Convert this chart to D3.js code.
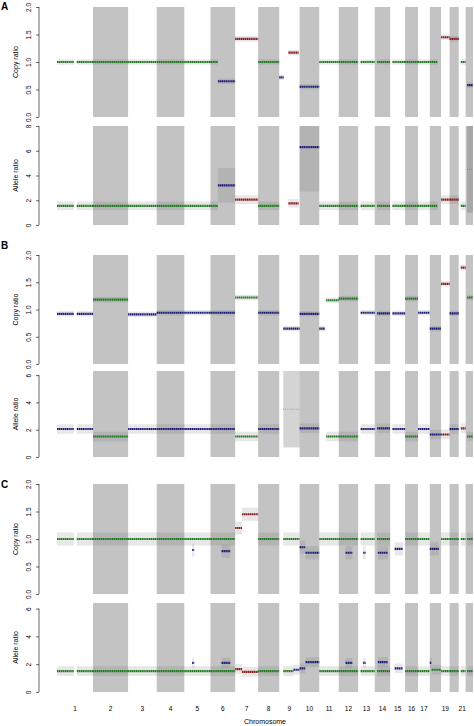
<!DOCTYPE html>
<html><head><meta charset="utf-8">
<script src="https://cdn.jsdelivr.net/npm/d3@7"></script>
<style>body{margin:0;background:#fff}svg{display:block}text{font-family:"Liberation Sans",Arial,sans-serif}</style>
</head><body><svg id="c" width="474" height="726"></svg>
<script>
// chromosome lengths (Mb)
const chromLengths = [249,243,198,191,181,171,159,146,141,136,135,134,115,107,103,90,81,78,59,63,48,51];
const chromLabels = ["1","2","3","4","5","6","7","8","9","10","11","12","13","14","15","16","17","","19","","21",""];
// segments: [chrom, startFrac, endFrac, value, colour, spread]
const copyA = [[1,0,0.47,1,"g"],[1,0.55,1,1,"g"],[2,0,1,1,"g"],[3,0,1,1,"g"],[4,0,1,1,"g"],[5,0,1,1,"g"],[6,0,0.3,1,"g"],[6,0.3,1,0.65,"b"],[7,0,1,1.42,"r"],[8,0,1,1,"g"],[9,0,0.22,0.72,"b"],[9,0.45,0.95,1.17,"r"],[10,0,1,0.55,"b"],[11,0,1,1,"g"],[12,0,1,1,"g"],[13,0.15,1,1,"g"],[14,0.15,1,1,"g"],[15,0.15,1,1,"g"],[16,0,1,1,"g"],[17,0,1,1,"g"],[18,0,0.7,1,"g"],[19,0,1,1.45,"r"],[20,0,1,1.42,"r"],[21,0.3,1,1,"g"],[22,0.2,1,0.58,"b"]];
const alleleA = [[1,0,0.47,1.55,"g"],[1,0.55,1,1.55,"g"],[2,0,1,1.55,"g"],[3,0,1,1.55,"g"],[4,0,1,1.55,"g"],[5,0,1,1.55,"g"],[6,0,0.3,1.55,"g"],[6,0.3,1,3.2,"b",1.4],[7,0,1,2.05,"r"],[8,0,1,1.55,"g"],[9,0.45,0.95,1.75,"r"],[10,0,1,6.3,"b",3.6],[11,0,1,1.55,"g"],[12,0,1,1.55,"g"],[13,0.15,1,1.55,"g"],[14,0.15,1,1.55,"g"],[15,0.15,1,1.55,"g"],[16,0,1,1.55,"g"],[17,0,1,1.55,"g"],[18,0,0.7,1.55,"g"],[19,0,1,2.05,"r"],[20,0,1,2.05,"r"],[21,0.3,1,1.55,"g"],[22,0.2,1,4.5,"k",3.5]];
const copyB = [[1,0,0.47,0.92,"b"],[1,0.55,1,0.92,"b"],[2,0,1,1.18,"g"],[3,0,1,0.91,"b"],[4,0,1,0.94,"b"],[5,0,1,0.94,"b"],[6,0,1,0.94,"b"],[7,0,1,1.22,"g"],[8,0,1,0.94,"b"],[9,0.2,1,0.65,"b"],[10,0,1,0.92,"b"],[11,0,0.3,0.65,"b"],[11,0.35,1,1.17,"g"],[12,0,1,1.2,"g"],[13,0.15,1,0.94,"b"],[14,0.15,1,0.93,"b"],[15,0.15,1,0.93,"b"],[16,0,1,1.2,"g"],[17,0,1,0.94,"b"],[18,0,1,0.65,"b"],[19,0,1,1.47,"r"],[20,0,1,0.93,"b"],[21,0.3,1,1.77,"r"],[22,0.2,1,1.22,"g"]];
const alleleB = [[1,0,0.47,2.05,"b"],[1,0.55,1,2.05,"b"],[2,0,1,1.5,"g"],[3,0,1,2.05,"b"],[4,0,1,2.05,"b"],[5,0,1,2.05,"b"],[6,0,1,2.05,"b"],[7,0,1,1.5,"g"],[8,0,1,2.05,"b"],[9,0.2,1,3.5,"k",2.8],[10,0,1,2.1,"b"],[11,0.35,1,1.5,"g"],[12,0,1,1.5,"g"],[13,0.15,1,2.05,"b"],[14,0.15,1,2.1,"b"],[15,0.15,1,2.05,"b"],[16,0,1,1.5,"g"],[17,0,1,2.05,"b"],[18,0,1,1.65,"b"],[19,0,1,1.65,"r"],[20,0,1,2.05,"b"],[21,0.3,1,2.1,"r"],[22,0.2,1,1.5,"g"]];
const copyC = [[1,0,0.47,1,"g"],[1,0.55,1,1,"g"],[2,0,1,1,"g"],[3,0,1,1,"g"],[4,0,1,1,"g"],[5,0,1,1,"g"],[5,0.3,0.38,0.8,"b"],[6,0,1,1,"g"],[6,0.45,0.8,0.78,"b"],[7,0,0.3,1.2,"r"],[7,0.3,1,1.45,"r"],[8,0,1,1,"g"],[9,0.2,1,1,"g"],[10,0,0.3,0.85,"b"],[10,0.3,1,0.75,"b"],[11,0,1,1,"g"],[12,0,1,1,"g"],[12,0.35,0.7,0.75,"b"],[13,0.15,1,1,"g"],[13,0.3,0.45,0.75,"b"],[14,0.15,1,1,"g"],[14,0.2,0.85,0.75,"b"],[15,0.3,0.85,0.82,"b"],[16,0,1,1,"g"],[17,0,1,1,"g"],[18,0,0.8,0.82,"b"],[19,0,1,1,"g"],[20,0,1,1,"g"],[21,0.3,1,1,"g"],[22,0.2,1,1,"g"]];
const alleleC = [[1,0,0.47,1.5,"g"],[1,0.55,1,1.5,"g"],[2,0,1,1.5,"g"],[3,0,1,1.5,"g"],[4,0,1,1.5,"g"],[5,0,1,1.5,"g"],[5,0.3,0.38,2.1,"b"],[6,0,1,1.5,"g"],[6,0.45,0.8,2.1,"b"],[7,0,0.3,1.65,"r"],[7,0.3,1,1.45,"r"],[8,0,1,1.5,"g"],[9,0.2,0.7,1.5,"g"],[9,0.7,1,1.6,"b"],[10,0,0.3,1.7,"b"],[10,0.3,1,2.15,"b"],[11,0,1,1.5,"g"],[12,0,1,1.5,"g"],[12,0.35,0.7,2.1,"b"],[13,0.15,1,1.5,"g"],[13,0.3,0.45,2.1,"b"],[14,0.15,1,1.5,"g"],[14,0.2,0.85,2.15,"b"],[15,0.3,0.85,1.7,"b"],[16,0,1,1.5,"g"],[17,0,1,1.5,"g"],[18,0,0.15,2.1,"b"],[18,0.15,1,1.6,"g"],[19,0,1,1.5,"g"],[20,0,1,1.5,"g"],[21,0.3,1,1.5,"g"],[22,0.2,1,1.5,"g"]];
const copyTicks = [0,0.5,1,1.5,2];
const alleleTicksA = [0,2,4,6,8];
const alleleTicks = [0,2,4,6];

const colors = {g:"#237a23",b:"#1c1c7a",r:"#8a1c1c",k:"#555"};
const svg = d3.select("#c");
const starts = []; let acc=0; chromLengths.forEach(l=>{starts.push(acc);acc+=l;});
const x = d3.scaleLinear().domain([0,acc]).range([57,473]);
const gpos = (c,f)=>starts[c-1]+f*chromLengths[c-1];

const panels = [
 {letter:"A",ly:10,data:copyA,dom:[0,2],top:7,bot:117,ticks:copyTicks,title:"Copy ratio",sp:0.05},
 {data:alleleA,dom:[0,8],top:126,bot:225,ticks:alleleTicksA,title:"Allele ratio",sp:0.35},
 {letter:"B",ly:249,data:copyB,dom:[0,2],top:255,bot:364,ticks:copyTicks,title:"Copy ratio",sp:0.05},
 {data:alleleB,dom:[0,6.3],top:371,bot:457,ticks:alleleTicks,title:"Allele ratio",sp:0.35},
 {letter:"C",ly:488,data:copyC,dom:[0,2],top:484,bot:594,ticks:copyTicks,title:"Copy ratio",sp:0.12},
 {data:alleleC,dom:[0,6.4],top:603,bot:692,ticks:alleleTicks,title:"Allele ratio",sp:0.35},
];
panels.forEach(p=>{
  const y = d3.scaleLinear().domain(p.dom).range([p.bot,p.top]);
  const g = svg.append("g");
  chromLengths.forEach((l,i)=>{ if(i%2==1) g.append("rect").attr("x",x(starts[i])).attr("width",x(starts[i]+l)-x(starts[i])).attr("y",p.top).attr("height",p.bot-p.top).attr("fill","#c3c3c3"); });
  p.data.forEach(s=>{
    const x0=x(gpos(s[0],s[1])), x1=x(gpos(s[0],s[2]));
    const sp = s[5]!==undefined? s[5] : p.sp;
    const yt = Math.max(p.top,y(s[3]+sp)), yb = Math.min(p.bot,y(s[3]-sp));
    g.append("rect").attr("x",x0).attr("width",x1-x0).attr("y",yt).attr("height",yb-yt).attr("fill","#555").attr("opacity",s[4]=="k"?0.25:0.14);
    if(s[4]!="k") g.append("line").attr("x1",x0).attr("x2",x1).attr("y1",y(s[3])).attr("y2",y(s[3])).attr("stroke",colors[s[4]]).attr("stroke-width",2.2).attr("stroke-dasharray","1.5 0.4");
    else g.append("line").attr("x1",x0).attr("x2",x1).attr("y1",y(s[3])).attr("y2",y(s[3])).attr("stroke","#333").attr("stroke-width",1).attr("stroke-dasharray","0.6 1.5").attr("opacity",0.5);
  });
  const ax = d3.axisLeft(y).tickValues(p.ticks).tickSize(3).tickFormat(d=>p.dom[1]===2?d3.format(".1f")(d):d3.format("d")(d));
  const a = svg.append("g").attr("transform","translate(39,0)").call(ax);
  a.select(".domain").attr("d",`M0,${y(p.ticks[0])}V${y(p.ticks[p.ticks.length-1])}`).attr("stroke","#000").attr("stroke-width",0.6);
  a.selectAll(".tick line").attr("stroke-width",0.6);
  a.selectAll(".tick text").attr("font-size",6.5).attr("transform","rotate(-90)").attr("x",0).attr("y",-8).attr("dy","0").attr("text-anchor","middle");
  svg.append("text").attr("transform",`translate(18,${(p.top+p.bot)/2}) rotate(-90)`).attr("text-anchor","middle").attr("font-size",7).text(p.title);
  if(p.letter) svg.append("text").attr("x",1).attr("y",p.ly).attr("font-size",10).attr("font-weight","bold").text(p.letter);
});
chromLabels.forEach((t,i)=>{ if(t) svg.append("text").attr("x",x(starts[i]+chromLengths[i]/2)).attr("y",711).attr("text-anchor","middle").attr("font-size",6.5).text(t); });
svg.append("text").attr("x",265).attr("y",724).attr("text-anchor","middle").attr("font-size",7).text("Chromosome");
</script></body></html>
